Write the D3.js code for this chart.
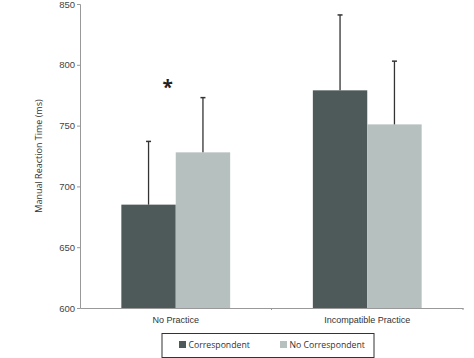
<!DOCTYPE html>
<html><head><meta charset="utf-8">
<script src="https://cdn.jsdelivr.net/npm/d3@7"></script>
<style>body{margin:0;background:#fff}svg{display:block;font-family:"Open Sans",sans-serif}</style>
</head><body><svg id="c" width="474" height="358"></svg>
<script>
const categories = ["No Practice", "Incompatible Practice"];
const seriesNames = ["Correspondent", "No Correspondent"];
const means = [[685, 728], [779, 751]];
const errTops = [[737, 773], [841, 803]];
const yTicks = [600, 650, 700, 750, 800, 850];
const colors = ["#4e5a59", "#b5c0bf"];

const svg = d3.select("#c");
const m = {l: 80, r: 11, t: 4, b: 50};
const W = 474, H = 358;
const x = d3.scaleBand().domain(categories).range([m.l, W - m.r]).paddingInner(0).paddingOuter(0);
const xs = d3.scaleBand().domain([0, 1]).range([0, x.bandwidth()]).paddingInner(0).paddingOuter(0.76);
const y = d3.scaleLinear().domain([600, 850]).range([308, 4]);

// y axis
const ya = svg.append("g").attr("transform", `translate(${m.l},0)`)
  .call(d3.axisLeft(y).tickValues(yTicks).tickSize(3).tickPadding(2));
ya.select(".domain").attr("stroke", "#999");
ya.selectAll(".tick line").attr("stroke", "#999");
ya.selectAll(".tick text").attr("fill", "#444").style("font-size", "9.5px");

svg.append("text").attr("transform", `translate(42,${y(725)}) rotate(-90)`)
  .attr("text-anchor", "middle").attr("fill", "#333").style("font-size", "9px")
  .text("Manual Reaction Time (ms)");

// bars
categories.forEach((c, i) => {
  const g = svg.append("g").attr("transform", `translate(${x(c)},0)`);
  means[i].forEach((v, j) => {
    g.append("rect").attr("x", xs(j)).attr("width", xs.bandwidth())
      .attr("y", y(v)).attr("height", y(600) - y(v)).attr("fill", colors[j]);
    const cx = xs(j) + xs.bandwidth() / 2;
    g.append("line").attr("x1", cx).attr("x2", cx).attr("y1", y(v)).attr("y2", y(errTops[i][j]))
      .attr("stroke", "#333").attr("stroke-width", 1.3);
    g.append("line").attr("x1", cx - 2.5).attr("x2", cx + 2.5).attr("y1", y(errTops[i][j])).attr("y2", y(errTops[i][j]))
      .attr("stroke", "#333").attr("stroke-width", 1.5);
  });
});

// x axis
const xa = svg.append("g").attr("transform", `translate(0,${y(600)})`)
  .call(d3.axisBottom(x).tickSize(0).tickPadding(9));
xa.select(".domain").attr("stroke", "#999");
xa.selectAll(".tick text").attr("fill", "#333").style("font-size", "9px");
[x(categories[1]), x(categories[1]) + x.bandwidth()].forEach(px => {
  svg.append("line").attr("x1", px).attr("x2", px).attr("y1", y(600)).attr("y2", y(600) + 2).attr("stroke", "#999");
});

// asterisk
svg.append("text").attr("x", x(categories[0]) + x.bandwidth() / 2 - 8).attr("y", 94)
  .attr("text-anchor", "middle").attr("fill", "#222").style("font-size", "19px").style("font-weight", "bold").text("*");

// legend
const lg = svg.append("g");
lg.append("rect").attr("x", 162).attr("y", 333.5).attr("width", 212).attr("height", 24)
  .attr("fill", "none").attr("stroke", "#333").attr("stroke-width", 1);
const lx = [179, 280];
seriesNames.forEach((s, j) => {
  lg.append("rect").attr("x", lx[j]).attr("y", 341).attr("width", 7).attr("height", 7).attr("fill", colors[j]);
  lg.append("text").attr("x", lx[j] + 9.5).attr("y", 348).attr("fill", "#333").style("font-size", "8.7px").text(s);
});
</script></body></html>
